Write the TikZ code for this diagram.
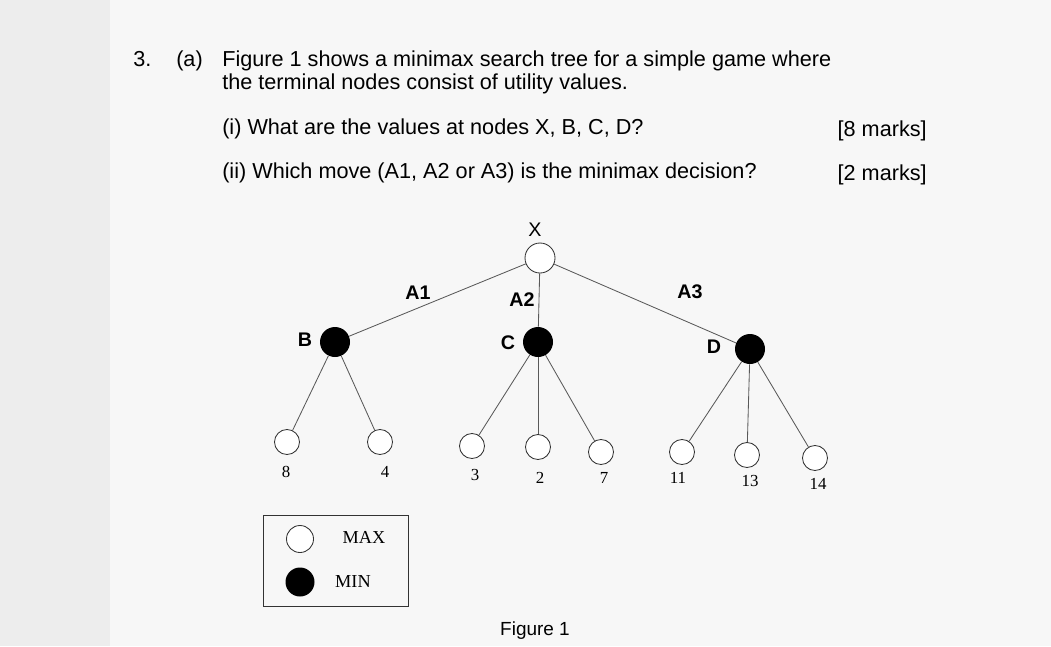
\documentclass[tikz,border=0pt]{standalone}
\usepackage{fontspec}
\setmainfont{Liberation Sans}
\newfontfamily\serifnum{Liberation Serif}
\begin{document}
\begin{tikzpicture}[x=0.025cm,y=-0.025cm,
  mx/.style={circle,draw=black!80,fill=white,minimum size=30*0.025cm,inner sep=0pt,line width=0.6pt},
  mn/.style={circle,fill=black,minimum size=30*0.025cm,inner sep=0pt},
  lf/.style={circle,draw=black!80,fill=white,minimum size=25*0.025cm,inner sep=0pt,line width=0.6pt},
  edge/.style={draw=black!65,line width=0.6pt},
  txt/.style={font=\fontsize{15.4}{18}\selectfont,anchor=base west,inner sep=0pt},
  num/.style={font=\serifnum\fontsize{12}{14}\selectfont},
  lab/.style={font=\bfseries\fontsize{14}{16}\selectfont}]
\fill[black!7] (0,0) rectangle (1051,646);
\fill[black!3] (110,0) rectangle (1051,646);
\node[txt] (q) at (133,66) {3.};
\node[txt] (a) at (176,66) {(a)};
\node[txt] (l1) at (222,66) {Figure 1 shows a minimax search tree for a simple game where};
\node[txt] (l2) at (222,89) {the terminal nodes consist of utility values.};
\node[txt] (i) at (222,134) {(i) What are the values at nodes X, B, C, D?};
\node[txt] (ii) at (222,178) {(ii) Which move (A1, A2 or A3) is the minimax decision?};
\node[txt,anchor=base east] (m8) at (927,136) {[8 marks]};
\node[txt,anchor=base east] (m2) at (927,180) {[2 marks]};

\node[mx] (X) at (540,258) {};
\node[font=\fontsize{14}{16}\selectfont] (XL) at (535,230) {X};
\node[mn] (B) at (335,342) {};
\node[mn] (C) at (538,342) {};
\node[mn] (D) at (750,349) {};
\node[lab] (BL) at (305,340) {B};
\node[lab] (CL) at (508,343) {C};
\node[lab] (DL) at (714,347) {D};
\node[lab] (A1) at (418,293) {A1};
\node[lab] (A2) at (522,300) {A2};
\node[lab] (A3) at (690,292) {A3};

\node[lf] (l8) at (287,442) {};
\node[lf] (l4) at (380,442) {};
\node[lf] (l3) at (472,446) {};
\node[lf] (l2n) at (538,447) {};
\node[lf] (l7) at (601,452) {};
\node[lf] (l11) at (682,452) {};
\node[lf] (l13) at (747,455) {};
\node[lf] (l14) at (815,458) {};

\foreach \p/\c in {X/B,X/C,X/D,B/l8,B/l4,C/l3,C/l2n,C/l7,D/l11,D/l13,D/l14}
  \draw[edge] (\p) -- (\c);

\node[num] (n8) at (286,472) {8};
\node[num] (n4) at (385,472) {4};
\node[num] (n3) at (475,475) {3};
\node[num] (n2) at (540,478) {2};
\node[num] (n7) at (604,478) {7};
\node[num] (n11) at (678,478) {11};
\node[num] (n13) at (750,481) {13};
\node[num] (n14) at (818,484) {14};

\draw[black!80,line width=0.7pt] (263,515) rectangle (408,606);
\node[lf,minimum size=27*0.025cm] (kmax) at (300,539) {};
\node[mn,minimum size=29*0.025cm] (kmin) at (300,582) {};
\node[num,font=\serifnum\fontsize{13}{15}\selectfont] (tmax) at (364,537) {MAX};
\node[num,font=\serifnum\fontsize{13}{15}\selectfont] (tmin) at (353,582) {MIN};
\node[font=\fontsize{13.5}{15}\selectfont] (fig) at (535,631) {Figure 1};
\end{tikzpicture}
\end{document}
